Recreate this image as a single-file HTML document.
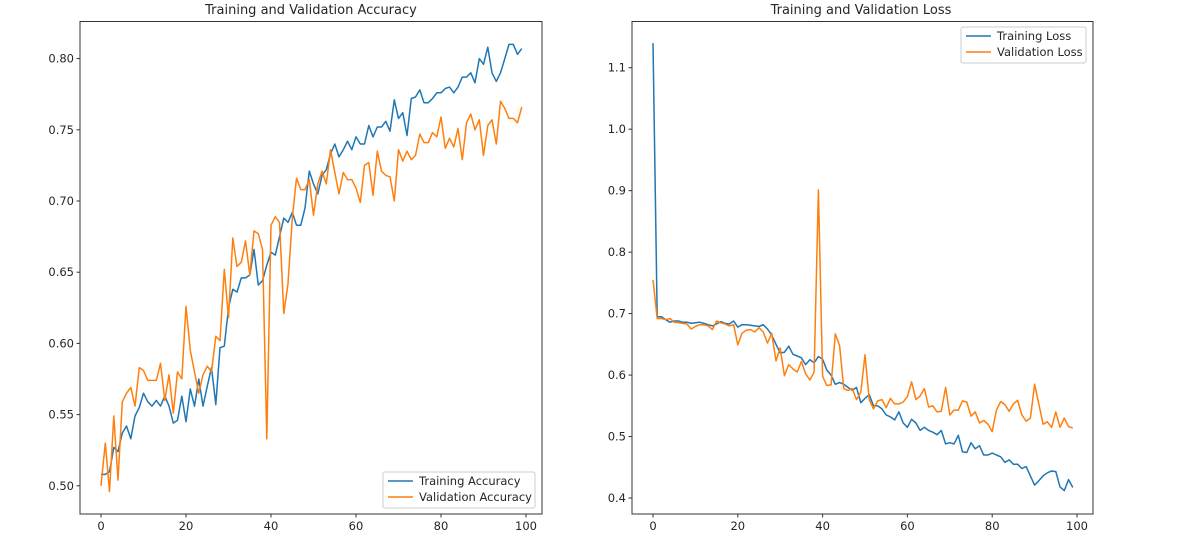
<!DOCTYPE html>
<html><head><meta charset="utf-8"><style>
html,body{margin:0;padding:0;background:#fff;}
svg text{font-family:"DejaVu Sans","Liberation Sans",sans-serif;font-size:11.5px;fill:#262626;}
</style></head><body>
<svg id="s" width="1185" height="550" xmlns="http://www.w3.org/2000/svg"></svg>
<script>
const ta=[.508,.508,.510,.527,.524,.537,.542,.533,.549,.555,.565,.559,.556,.560,.556,.563,.556,.544,.546,.563,.545,.568,.556,.575,.556,.570,.583,.557,.597,.598,.625,.638,.636,.646,.646,.648,.666,.641,.644,.655,.664,.662,.675,.688,.685,.692,.683,.683,.695,.721,.712,.705,.718,.722,.733,.740,.731,.736,.742,.736,.745,.740,.740,.753,.745,.752,.752,.756,.749,.771,.758,.762,.746,.772,.773,.778,.769,.769,.772,.776,.776,.779,.780,.776,.780,.787,.787,.790,.783,.800,.796,.808,.790,.784,.790,.800,.810,.810,.803,.807];
const va=[.500,.530,.496,.549,.504,.559,.565,.569,.556,.583,.581,.574,.574,.574,.586,.560,.578,.551,.580,.575,.626,.595,.580,.565,.578,.584,.580,.605,.602,.652,.618,.674,.654,.657,.672,.648,.679,.677,.666,.533,.683,.689,.685,.621,.642,.688,.716,.708,.708,.715,.690,.712,.721,.712,.736,.720,.705,.720,.715,.715,.709,.699,.725,.727,.704,.735,.721,.718,.717,.700,.736,.728,.735,.729,.732,.747,.741,.741,.748,.745,.759,.737,.744,.738,.751,.729,.755,.761,.750,.757,.732,.753,.757,.740,.770,.765,.758,.758,.755,.766];
const tl=[1.14,.695,.695,.690,.686,.688,.688,.686,.686,.684,.685,.686,.684,.682,.680,.683,.687,.684,.683,.688,.678,.682,.682,.681,.680,.679,.682,.675,.665,.650,.636,.637,.647,.634,.631,.628,.617,.625,.620,.630,.626,.608,.600,.585,.588,.585,.580,.575,.580,.555,.562,.568,.550,.550,.545,.535,.532,.527,.540,.522,.515,.528,.522,.510,.515,.510,.507,.503,.510,.488,.490,.488,.502,.475,.474,.490,.480,.485,.470,.470,.473,.470,.467,.458,.462,.455,.455,.448,.451,.436,.421,.428,.436,.441,.444,.443,.418,.412,.430,.417];
const vl=[.755,.692,.692,.690,.692,.686,.685,.684,.683,.675,.679,.682,.682,.680,.674,.688,.685,.683,.680,.682,.649,.668,.673,.674,.670,.677,.670,.652,.668,.623,.644,.599,.617,.610,.605,.622,.602,.592,.605,.901,.598,.583,.584,.667,.648,.578,.575,.578,.560,.572,.633,.560,.545,.558,.560,.547,.562,.553,.553,.556,.565,.589,.560,.566,.578,.548,.550,.540,.541,.580,.535,.543,.543,.558,.556,.533,.540,.522,.526,.520,.508,.543,.557,.552,.541,.553,.559,.535,.525,.530,.585,.553,.520,.524,.515,.540,.515,.530,.516,.514];
const B='#1f77b4',O='#ff7f0e';
let h='';
function panel(L,R,T,Bt,x0,x1,yv0,yp0,yv1,yp1,yt,fmt,s1,s2,title,tx,leg){
 const X=i=>x0+(x1-x0)*i/100, Y=v=>yp0+(yp1-yp0)*(v-yv0)/(yv1-yv0);
 h+=`<text x="${tx}" y="14" text-anchor="middle" style="font-size:13px">${title}</text>`;
 for(const[d,c]of[[s1,B],[s2,O]])h+=`<polyline fill="none" stroke="${c}" stroke-width="1.5" stroke-linejoin="round" points="${d.map((v,i)=>X(i).toFixed(1)+','+Y(v).toFixed(1)).join(' ')}"/>`;
 h+=`<rect x="${L}" y="${T}" width="${R-L}" height="${Bt-T}" fill="none" stroke="#333" stroke-width="1"/>`;
 for(let i=0;i<=100;i+=20){const x=X(i);h+=`<line x1="${x}" y1="${Bt}" x2="${x}" y2="${Bt+3.5}" stroke="#333"/><text x="${x}" y="${Bt+16}" text-anchor="middle">${i}</text>`;}
 for(const v of yt){const y=Y(v);h+=`<line x1="${L-3.5}" y1="${y}" x2="${L}" y2="${y}" stroke="#333"/><text x="${L-6}" y="${y+4}" text-anchor="end">${fmt(v)}</text>`;}
 const[lx,ly,lw,lh,n1,n2]=leg;
 h+=`<rect x="${lx}" y="${ly}" width="${lw}" height="${lh}" rx="2" fill="#fff" fill-opacity="0.8" stroke="#ccc"/>`;
 h+=`<line x1="${lx+5}" y1="${ly+9}" x2="${lx+30}" y2="${ly+9}" stroke="${B}" stroke-width="1.5"/><text x="${lx+36}" y="${ly+13}">${n1}</text>`;
 h+=`<line x1="${lx+5}" y1="${ly+25}" x2="${lx+30}" y2="${ly+25}" stroke="${O}" stroke-width="1.5"/><text x="${lx+36}" y="${ly+29}">${n2}</text>`;
}
panel(80,542,21.5,514,101,526,.5,485.8,.8,58.6,[.5,.55,.6,.65,.7,.75,.8],v=>v.toFixed(2),ta,va,'Training and Validation Accuracy',311,[383,472,152,36,'Training Accuracy','Validation Accuracy']);
panel(632,1093,21.5,514,653,1077,.4,498,1.1,67.7,[.4,.5,.6,.7,.8,.9,1.0,1.1],v=>v.toFixed(1),tl,vl,'Training and Validation Loss',861,[961,27,125,36,'Training Loss','Validation Loss']);
document.getElementById('s').innerHTML=h;
</script>
</body></html>
